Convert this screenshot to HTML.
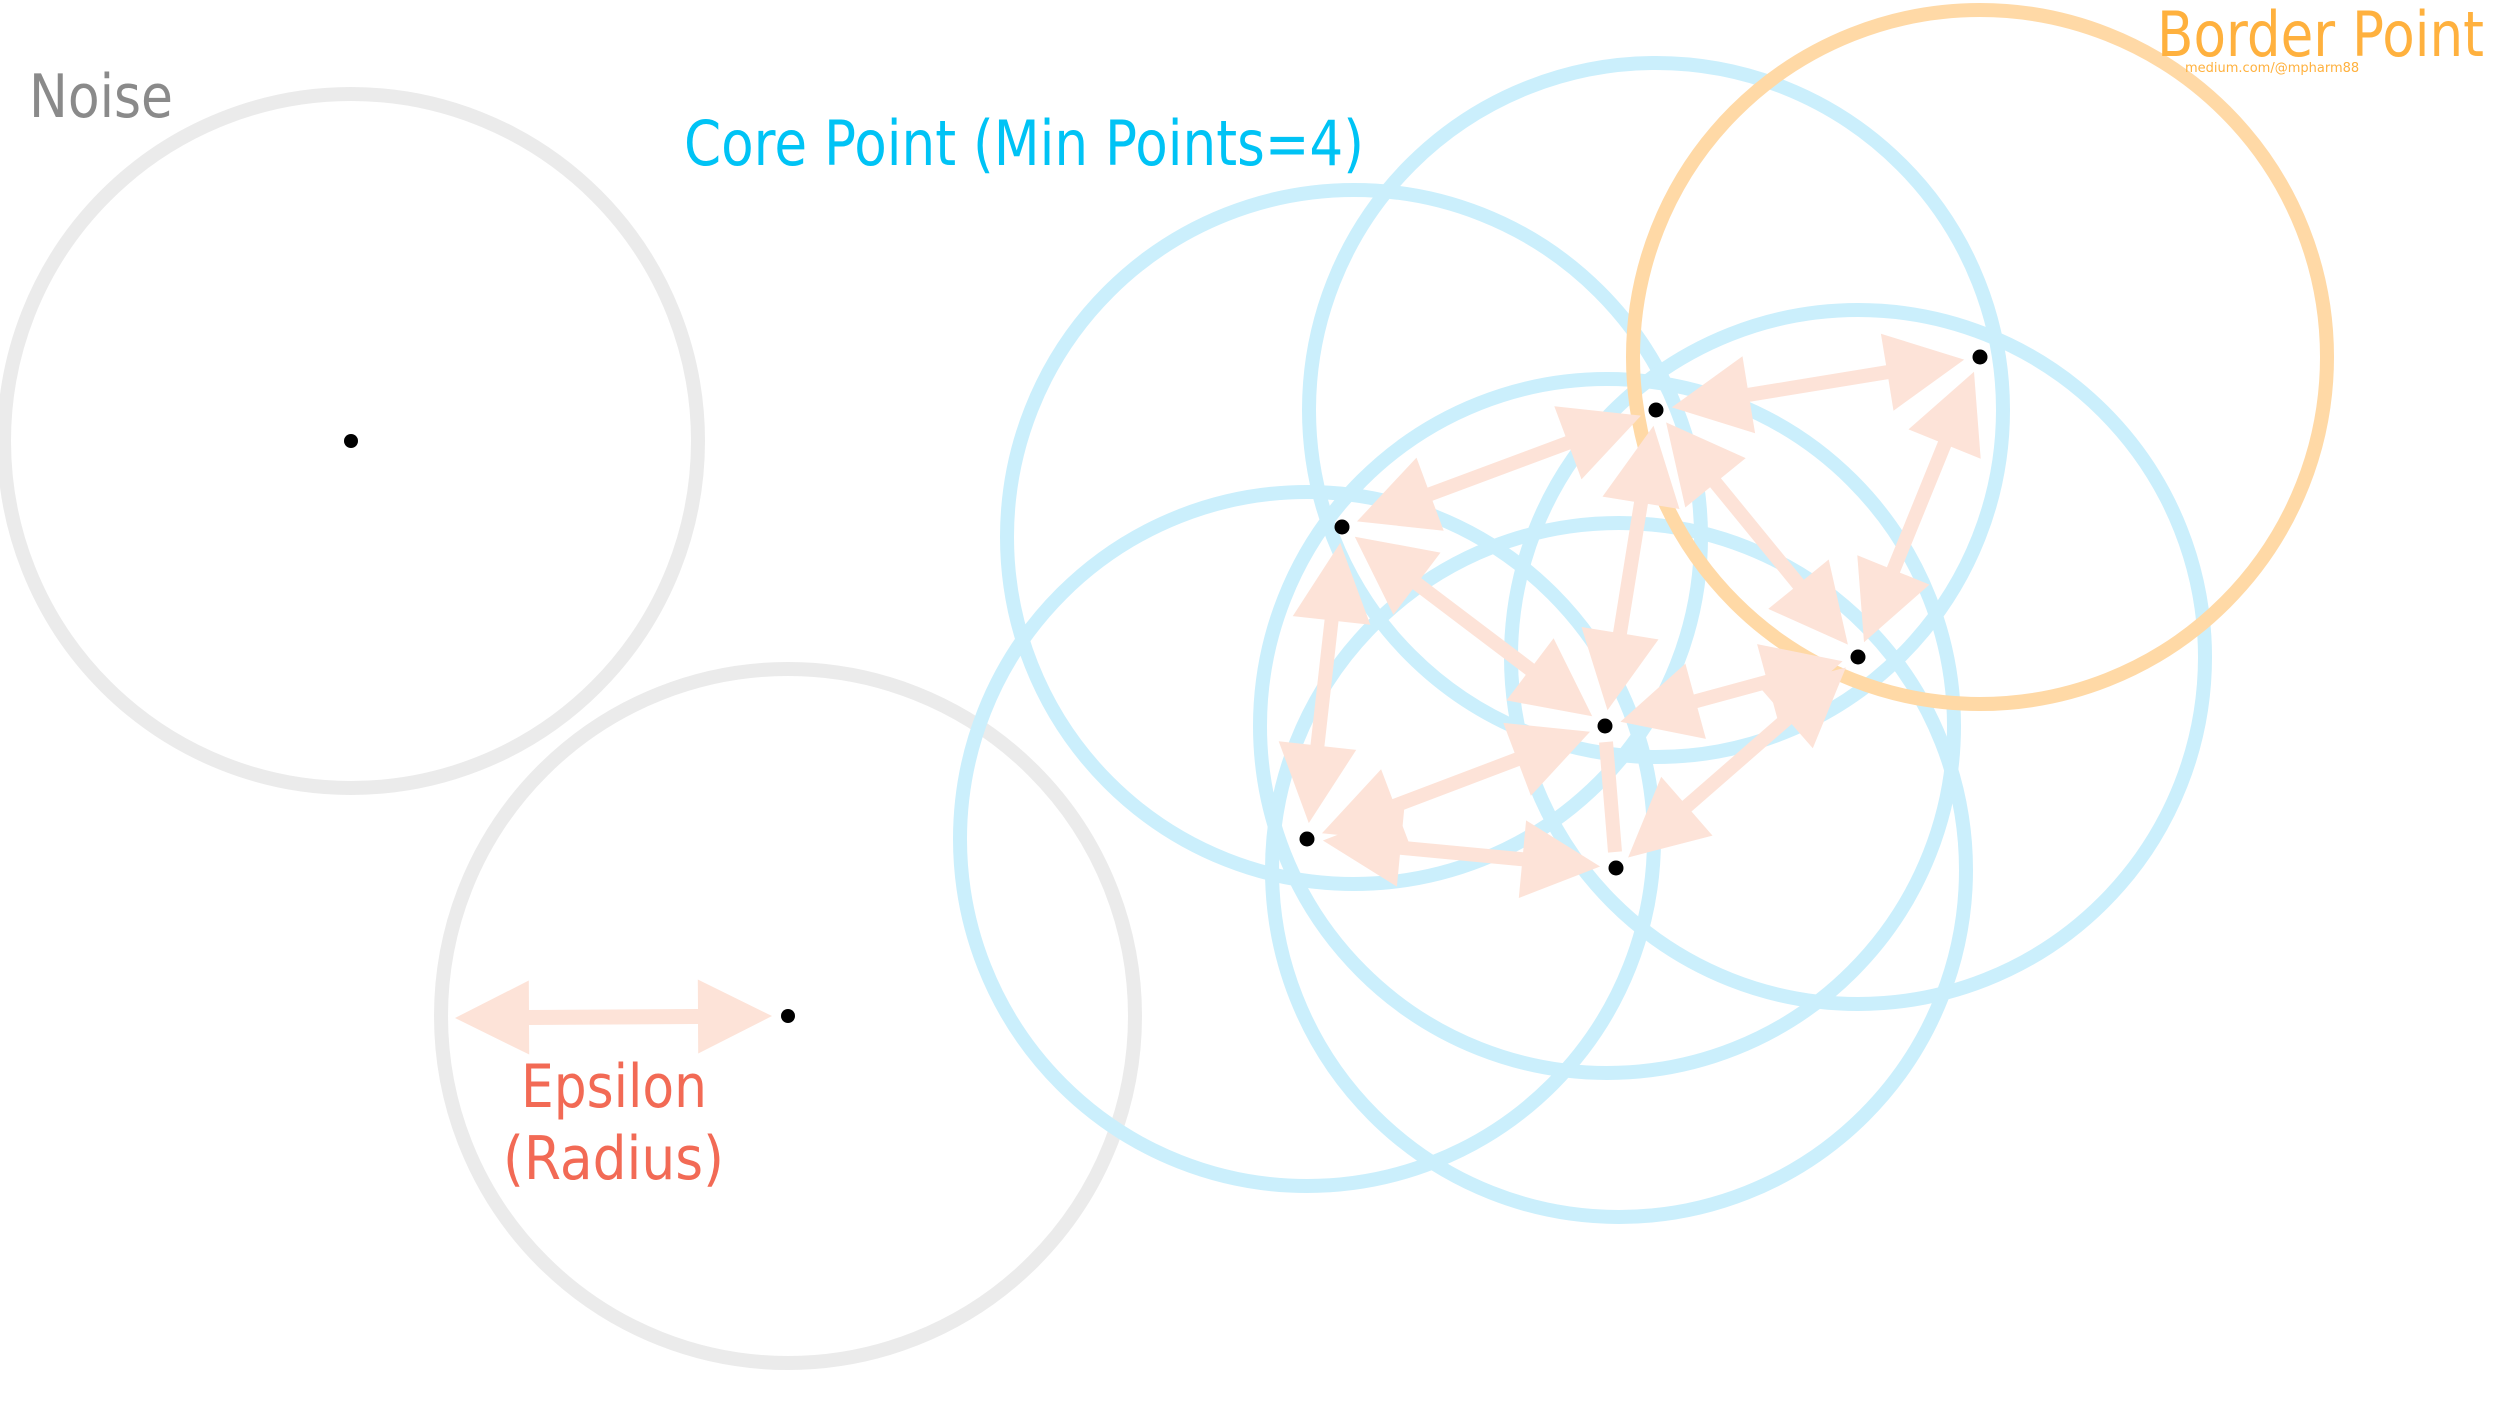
<!DOCTYPE html>
<html><head><meta charset="utf-8"><style>
html,body{margin:0;padding:0;background:#fff;width:2512px;height:1410px;overflow:hidden}
svg{display:block}
text{font-family:"DejaVu Sans","Liberation Sans",sans-serif}
</style></head><body>
<svg id="s" width="2512" height="1410" viewBox="0 0 2512 1410" xmlns="http://www.w3.org/2000/svg">
<g fill="none" stroke-width="14">
<circle cx="351" cy="441" r="347" stroke="#ebebeb"/>
<circle cx="788" cy="1016" r="347" stroke="#ebebeb"/>
<circle cx="1354" cy="537" r="347" stroke="#cbeffc"/>
<circle cx="1656" cy="410" r="347" stroke="#cbeffc"/>
<circle cx="1858" cy="657" r="347" stroke="#cbeffc"/>
<circle cx="1607" cy="726" r="347" stroke="#cbeffc"/>
<circle cx="1307" cy="839" r="347" stroke="#cbeffc"/>
<circle cx="1619" cy="870" r="347" stroke="#cbeffc"/>
<circle cx="1980" cy="357" r="347" stroke="#ffd9a6"/>
</g>
<g id="arrows" fill="#fde3d8"></g>
<line x1="1606" y1="742" x2="1615" y2="852" stroke="#fde3d8" stroke-width="14"/>
<g fill="#000">
<circle cx="351" cy="441" r="7"/><circle cx="788" cy="1016" r="7"/>
<circle cx="1342" cy="527" r="7.5"/><circle cx="1656" cy="410" r="7.5"/>
<circle cx="1980" cy="357" r="7.5"/><circle cx="1858" cy="657" r="7.5"/>
<circle cx="1605" cy="726" r="7.5"/><circle cx="1307" cy="839" r="7.5"/>
<circle cx="1616" cy="868" r="7.5"/>
</g>
<text x="29" y="117" font-size="60" fill="#8a8a8a" textLength="144" lengthAdjust="spacingAndGlyphs">Noise</text>
<text x="684" y="165" font-size="62" fill="#00c3f5" textLength="680" lengthAdjust="spacingAndGlyphs">Core Point (Min Points=4)</text>
<text x="2157" y="56" font-size="62" fill="#ffb13e" textLength="327" lengthAdjust="spacingAndGlyphs">Border Point</text>
<text x="2185" y="72" font-size="13" fill="#ffb13e">medium.com/@mpharm88</text>
<text x="521" y="1107" font-size="60" fill="#f26a55" textLength="186" lengthAdjust="spacingAndGlyphs">Epsilon</text>
<text x="503" y="1179" font-size="60" fill="#f26a55" textLength="221" lengthAdjust="spacingAndGlyphs">(Radius)</text>
</svg>
<script>
var P={A:[1342,527],B:[1656,410],C:[1980,357],D:[1858,657],E:[1605,726],F:[1307,839],G:[1616,868]};
var pairs=[["A","B"],["B","C"],["A","E"],["A","F"],["B","E"],["B","D"],["C","D"],["E","D"],["E","F"],["F","G"],["G","D"]];
var g=document.getElementById("arrows");
function arrow(p,q,gap,hl,hw,sw){
 var dx=q[0]-p[0],dy=q[1]-p[1],L=Math.hypot(dx,dy),ux=dx/L,uy=dy/L,nx=-uy,ny=ux;
 var s=[p[0]+ux*gap,p[1]+uy*gap],e=[q[0]-ux*gap,q[1]-uy*gap];
 var s2=[s[0]+ux*hl,s[1]+uy*hl],e2=[e[0]-ux*hl,e[1]-uy*hl];
 var pts=[s,[s2[0]+nx*hw/2,s2[1]+ny*hw/2],[s2[0]+nx*sw/2,s2[1]+ny*sw/2],[e2[0]+nx*sw/2,e2[1]+ny*sw/2],[e2[0]+nx*hw/2,e2[1]+ny*hw/2],e,
 [e2[0]-nx*hw/2,e2[1]-ny*hw/2],[e2[0]-nx*sw/2,e2[1]-ny*sw/2],[s2[0]-nx*sw/2,s2[1]-ny*sw/2],[s2[0]-nx*hw/2,s2[1]-ny*hw/2]];
 var el=document.createElementNS("http://www.w3.org/2000/svg","polygon");
 el.setAttribute("points",pts.map(function(a){return a[0].toFixed(1)+","+a[1].toFixed(1)}).join(" "));
 g.appendChild(el);
}
pairs.forEach(function(k){arrow(P[k[0]],P[k[1]],16,78,78,14);});
arrow([455,1018],[772,1016],0,74,74,15);
</script>
</body></html>
